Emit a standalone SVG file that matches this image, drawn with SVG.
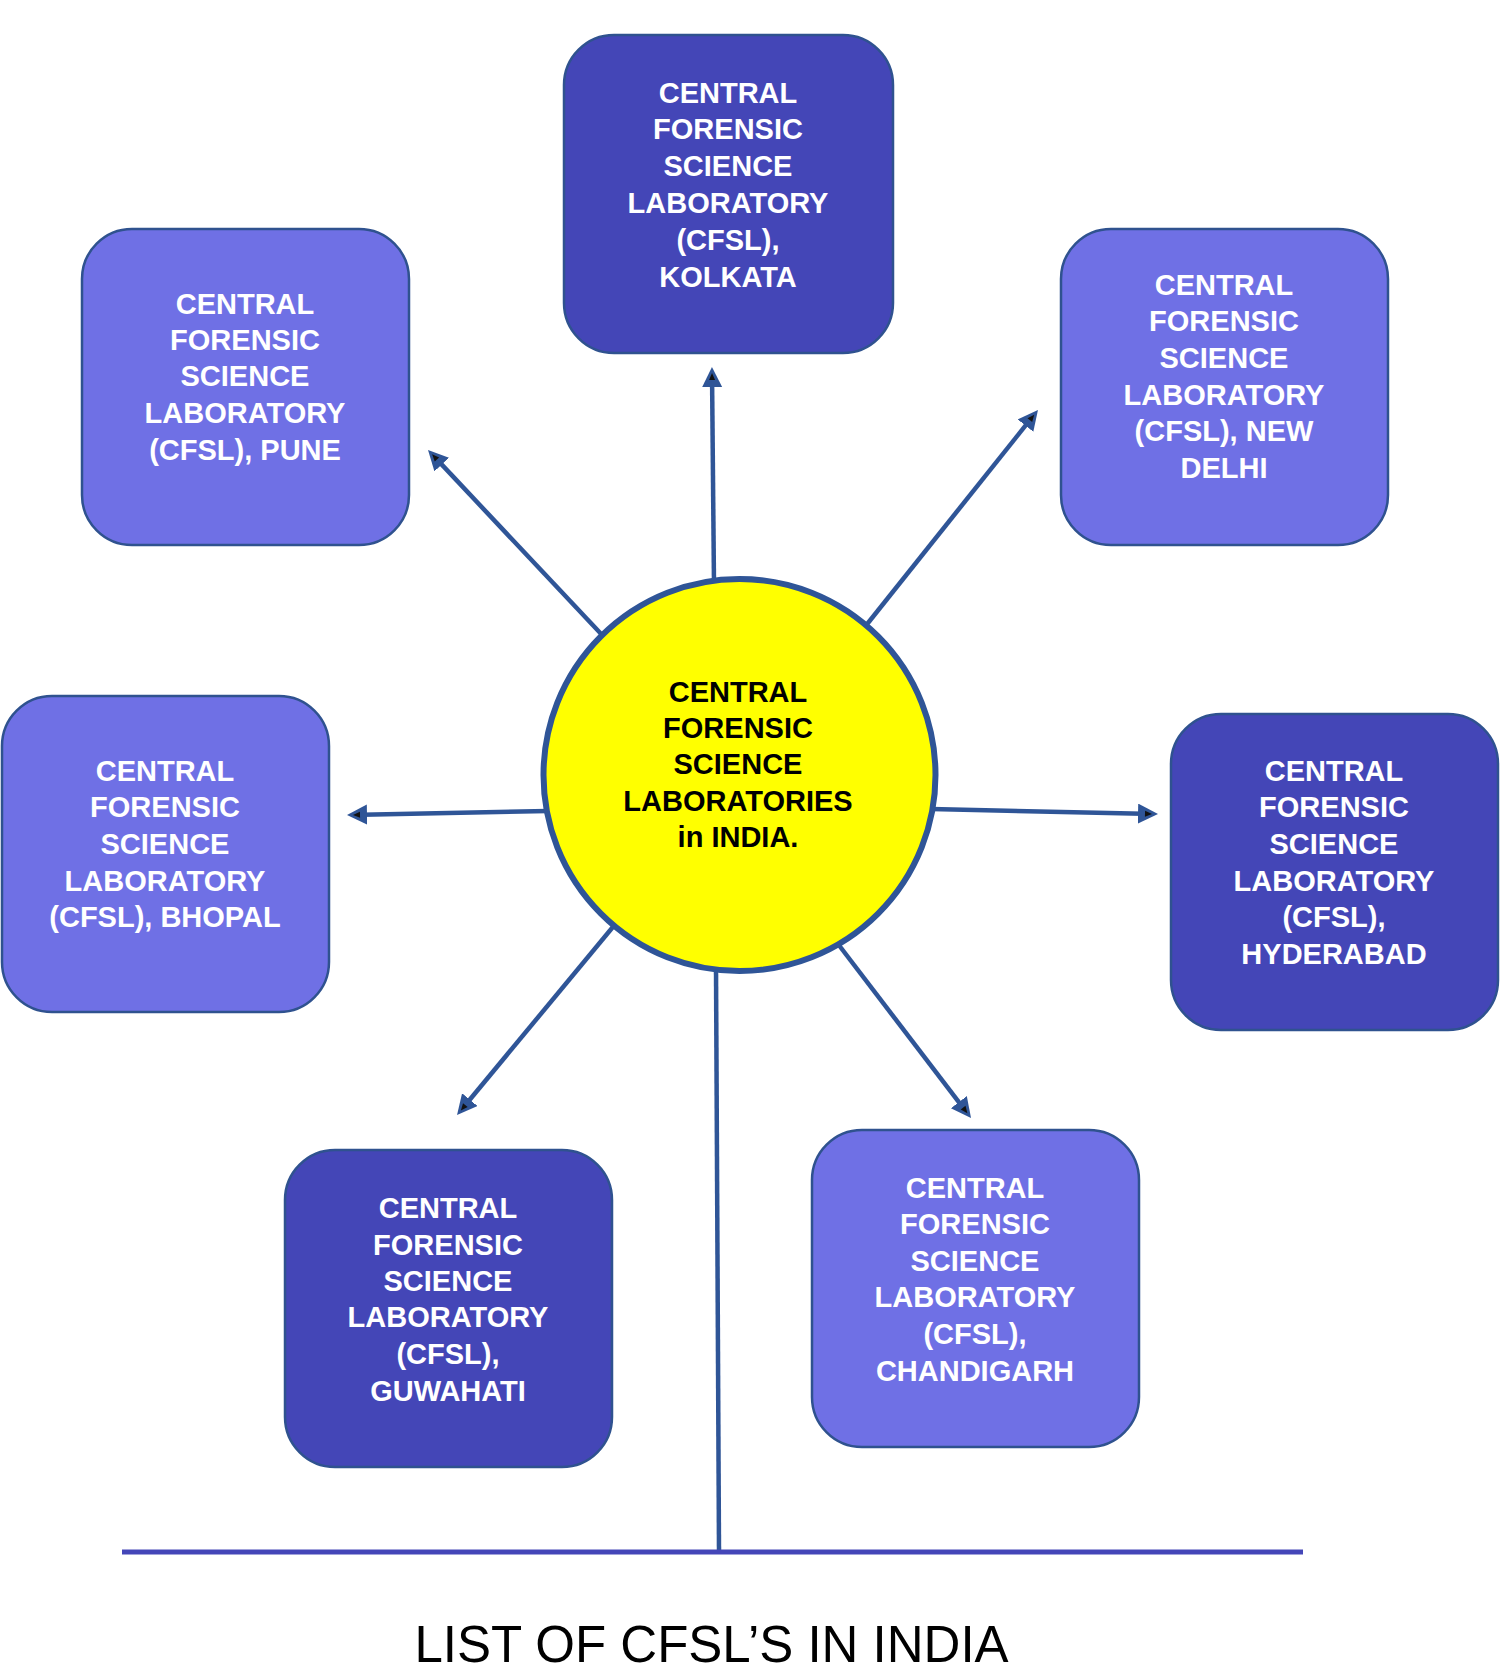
<svg xmlns="http://www.w3.org/2000/svg" width="1500" height="1663" viewBox="0 0 1500 1663">
<style>
  .box rect { stroke: #2f528f; stroke-width: 2.5; }
  .dark rect { fill: #4446b7; }
  .light rect { fill: #6f70e5; }
  .box text { font-family: "Liberation Sans", Arial, sans-serif; font-weight: bold; font-size: 29px; fill: #ffffff; text-anchor: middle; }
  .hub circle { fill: #ffff00; stroke: #2f5597; stroke-width: 6; }
  .hub text { font-family: "Liberation Sans", Arial, sans-serif; font-weight: bold; font-size: 29px; fill: #000000; text-anchor: middle; }
  .conn line { stroke: #2f5597; stroke-width: 4.5; fill: none; }
  .conn .arrow { marker-end: url(#ah); }
  .title { font-family: "Liberation Sans", Arial, sans-serif; font-size: 51px; fill: #000000; text-anchor: middle; }
</style>
<defs>
  <marker id="ah" markerUnits="userSpaceOnUse" markerWidth="22" markerHeight="22" refX="5" refY="10" orient="auto" viewBox="0 0 22 22">
    <path d="M0,0 L20,10 L0,20 z" fill="#2f5597"/>
    <path d="M7,7 L14,10 L7,13 z" fill="#111111"/>
  </marker>
</defs>
<rect width="1500" height="1663" fill="#ffffff"/>

<g id="connectors" class="conn">
  <line class="arrow" x1="714" y1="585" x2="712.1" y2="382"/>
  <line class="arrow" x1="604" y1="637" x2="438.3" y2="460.9"/>
  <line class="arrow" x1="864" y1="628" x2="1028.6" y2="421.7"/>
  <line class="arrow" x1="548" y1="811" x2="362" y2="814.7"/>
  <line class="arrow" x1="931" y1="809" x2="1143" y2="813.7"/>
  <line class="arrow" x1="617" y1="922" x2="466.6" y2="1103.5"/>
  <line class="arrow" x1="835" y1="940" x2="961.9" y2="1106.1"/>
  <line x1="716" y1="968" x2="719" y2="1552"/>
  <line x1="122" y1="1552" x2="1303" y2="1552" style="stroke:#4446b8;stroke-width:5"/>
</g>

<g id="hub" class="hub">
  <circle cx="739.5" cy="775" r="196"/>
  <text x="738" y="702">CENTRAL</text>
  <text x="738" y="738">FORENSIC</text>
  <text x="738" y="774">SCIENCE</text>
  <text x="738" y="811">LABORATORIES</text>
  <text x="738" y="847">in INDIA.</text>
</g>

<g id="kolkata" class="box dark">
  <rect x="564" y="35" width="329" height="318" rx="50" ry="50"/>
  <text x="728" y="103">CENTRAL</text>
  <text x="728" y="139">FORENSIC</text>
  <text x="728" y="176">SCIENCE</text>
  <text x="728" y="213">LABORATORY</text>
  <text x="728" y="250">(CFSL),</text>
  <text x="728" y="287">KOLKATA</text>
</g>

<g id="pune" class="box light">
  <rect x="82" y="229" width="327" height="316" rx="50" ry="50"/>
  <text x="245" y="314">CENTRAL</text>
  <text x="245" y="350">FORENSIC</text>
  <text x="245" y="386">SCIENCE</text>
  <text x="245" y="423">LABORATORY</text>
  <text x="245" y="460">(CFSL), PUNE</text>
</g>

<g id="newdelhi" class="box light">
  <rect x="1061" y="229" width="327" height="316" rx="50" ry="50"/>
  <text x="1224" y="295">CENTRAL</text>
  <text x="1224" y="331">FORENSIC</text>
  <text x="1224" y="368">SCIENCE</text>
  <text x="1224" y="405">LABORATORY</text>
  <text x="1224" y="441">(CFSL), NEW</text>
  <text x="1224" y="478">DELHI</text>
</g>

<g id="bhopal" class="box light">
  <rect x="2" y="696" width="327" height="316" rx="50" ry="50"/>
  <text x="165" y="781">CENTRAL</text>
  <text x="165" y="817">FORENSIC</text>
  <text x="165" y="854">SCIENCE</text>
  <text x="165" y="891">LABORATORY</text>
  <text x="165" y="927">(CFSL), BHOPAL</text>
</g>

<g id="hyderabad" class="box dark">
  <rect x="1171" y="714" width="327" height="316" rx="50" ry="50"/>
  <text x="1334" y="781">CENTRAL</text>
  <text x="1334" y="817">FORENSIC</text>
  <text x="1334" y="854">SCIENCE</text>
  <text x="1334" y="891">LABORATORY</text>
  <text x="1334" y="927">(CFSL),</text>
  <text x="1334" y="964">HYDERABAD</text>
</g>

<g id="guwahati" class="box dark">
  <rect x="285" y="1150" width="327" height="317" rx="50" ry="50"/>
  <text x="448" y="1218">CENTRAL</text>
  <text x="448" y="1255">FORENSIC</text>
  <text x="448" y="1291">SCIENCE</text>
  <text x="448" y="1327">LABORATORY</text>
  <text x="448" y="1364">(CFSL),</text>
  <text x="448" y="1401">GUWAHATI</text>
</g>

<g id="chandigarh" class="box light">
  <rect x="812" y="1130" width="327" height="317" rx="50" ry="50"/>
  <text x="975" y="1198">CENTRAL</text>
  <text x="975" y="1234">FORENSIC</text>
  <text x="975" y="1271">SCIENCE</text>
  <text x="975" y="1307">LABORATORY</text>
  <text x="975" y="1344">(CFSL),</text>
  <text x="975" y="1381">CHANDIGARH</text>
</g>

<text id="title" class="title" x="711.5" y="1662">LIST OF CFSL’S IN INDIA</text>
</svg>
